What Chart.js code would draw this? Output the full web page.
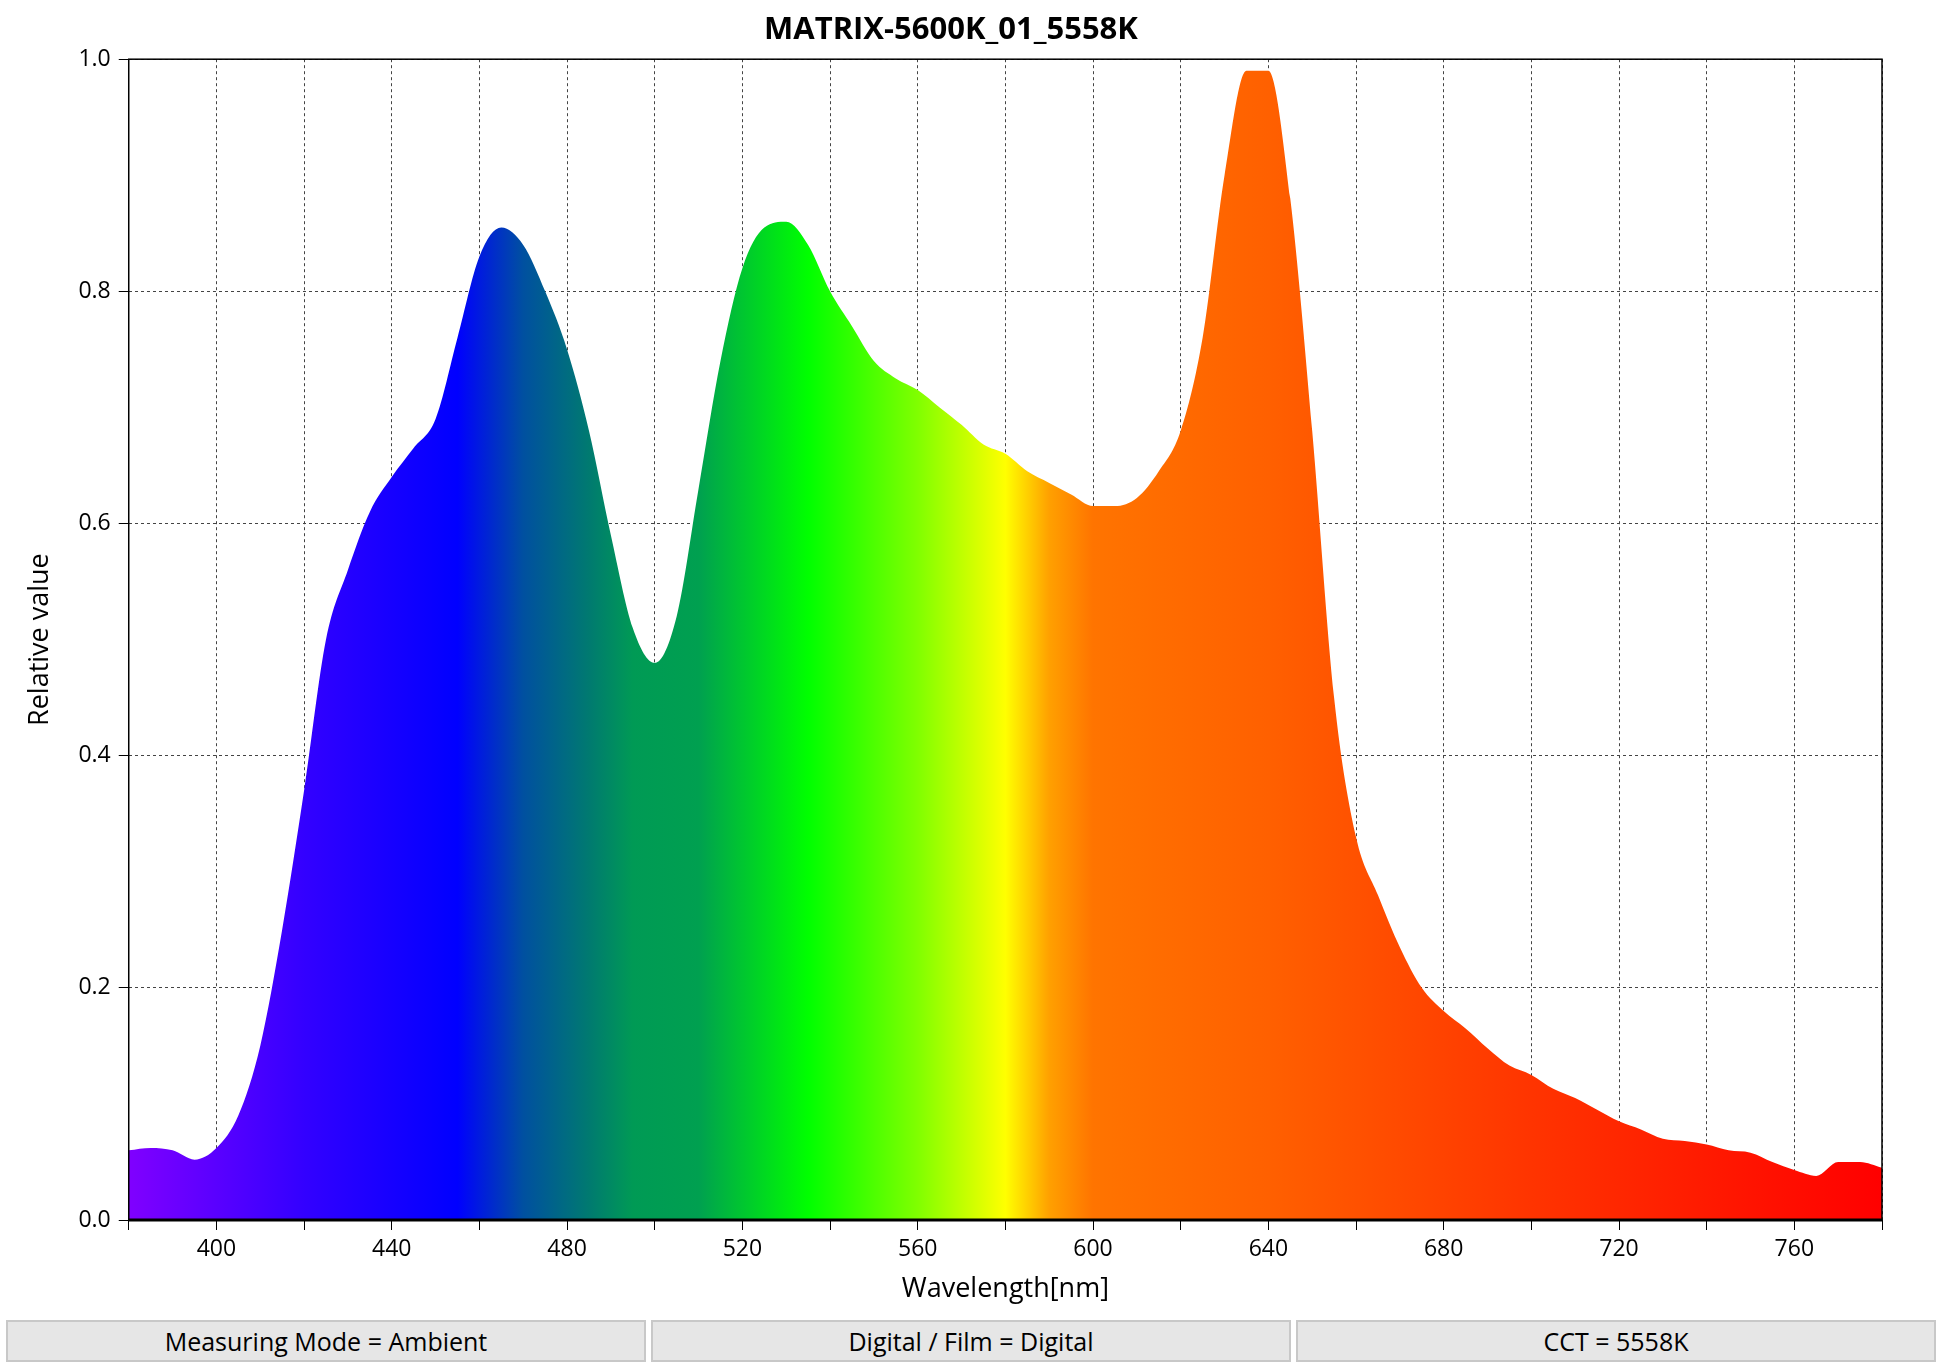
<!DOCTYPE html>
<html>
<head>
<meta charset="utf-8">
<script src="https://cdn.jsdelivr.net/npm/chart.js@4/dist/chart.umd.min.js"></script>
<style>
body { margin: 0; background: #fff; font-family: "Open Sans", "Noto Sans", sans-serif; }
#wrap { position: absolute; left: 0; top: 0; width: 1940px; height: 1310px; }
.box { position: absolute; top: 1320px; height: 38px; background: #e6e6e6; border: 2px solid #c8c8c8;
  font-size: 25px; line-height: 38px; text-align: center; color: #000; box-sizing: content-box; }
</style>
</head>
<body>
<div id="wrap"><canvas id="spec"></canvas></div>
<div class="box" style="left:6px;width:636px">Measuring Mode = Ambient</div>
<div class="box" style="left:651px;width:636px">Digital / Film = Digital</div>
<div class="box" style="left:1296px;width:636px">CCT = 5558K</div>
<script>
const wavelengths = [380,385,390,395,400,405,410,415,420,425,430,435,440,445,450,455,460,465,470,475,480,485,490,495,500,
  505,510,515,520,525,530,535,540,545,550,555,560,565,570,575,580,585,590,595,600,605,610,615,620,625,630,635,640,645,650,
  655,660,665,670,675,680,685,690,695,700,705,710,715,720,725,730,735,740,745,750,755,760,765,770,775,780];
const relValue = [0.06,0.062,0.06,0.052,0.062,0.09,0.15,0.25,0.37,0.5,0.56,0.61,0.64,0.665,0.69,0.76,0.83,0.855,0.84,0.80,0.75,
  0.68,0.59,0.51,0.48,0.52,0.63,0.74,0.82,0.855,0.86,0.84,0.80,0.77,0.74,0.725,0.715,0.70,0.685,0.668,0.66,0.645,0.635,0.625,
  0.615,0.615,0.622,0.645,0.68,0.76,0.9,0.99,0.99,0.88,0.68,0.45,0.33,0.28,0.235,0.20,0.18,0.165,0.148,0.133,0.125,0.113,
  0.105,0.095,0.085,0.078,0.07,0.068,0.065,0.06,0.058,0.05,0.043,0.038,0.05,0.05,0.045];
const gradStops = [[380,'#8000ff'],[420,'#3300ff'],[455,'#0000ff'],[470,'#0050a0'],[485,'#007a70'],[495,'#009a55'],
  [510,'#00a050'],[535,'#00ff00'],[560,'#80ff00'],[580,'#ffff00'],[590,'#ffa000'],[600,'#ff7400'],[640,'#ff6000'],
  [700,'#ff3400'],[780,'#ff0000']];

function spectrumFill(ctx) {
  const chart = ctx.chart;
  const area = chart.chartArea;
  if (!area) return '#00f';
  const xs = chart.scales.x;
  const g = chart.ctx.createLinearGradient(area.left, 0, area.right, 0);
  gradStops.forEach(s => g.addColorStop((xs.getPixelForValue(s[0]) - area.left) / (area.right - area.left), s[1]));
  return g;
}

const frame = {
  id: 'frame',
  afterDraw(chart) {
    const a = chart.chartArea, c = chart.ctx;
    c.save(); c.strokeStyle = '#000'; c.lineWidth = 1.5;
    c.strokeRect(a.left, a.top, a.right - a.left, a.bottom - a.top);
    c.lineWidth = 3; c.beginPath(); c.moveTo(a.left, a.bottom); c.lineTo(a.right, a.bottom); c.stroke();
    c.restore();
  }
};

new Chart(document.getElementById('spec'), {
  type: 'line',
  data: {
    datasets: [{
      data: wavelengths.map((w, i) => ({ x: w, y: relValue[i] })),
      fill: 'origin',
      backgroundColor: spectrumFill,
      borderWidth: 0,
      pointRadius: 0,
      cubicInterpolationMode: 'monotone'
    }]
  },
  options: {
    responsive: true,
    maintainAspectRatio: false,
    animation: false,
    layout: { padding: { left: 20, right: 58, top: 0, bottom: 0 } },
    plugins: {
      legend: { display: false },
      tooltip: { enabled: false },
      title: { display: true, text: 'MATRIX-5600K_01_5558K', color: '#000',
        font: { size: 31, family: 'Open Sans' }, padding: { top: 12, bottom: 10 } }
    },
    scales: {
      x: {
        type: 'linear', min: 380, max: 780,
        ticks: { stepSize: 20, color: '#000', font: { size: 23, family: 'Open Sans' }, maxRotation: 0, padding: 6,
          callback: v => (v % 40 === 0 ? v : '') },
        grid: { color: '#444', lineWidth: 1, drawTicks: true, tickLength: 10, tickColor: '#000',
          tickBorderDash: [] },
        border: { dash: [3, 3], display: false },
        title: { display: true, text: 'Wavelength[nm]', color: '#000', font: { size: 27, family: 'Open Sans' }, padding: { top: 4 } }
      },
      y: {
        min: 0, max: 1.0,
        ticks: { stepSize: 0.2, color: '#000', font: { size: 23, family: 'Open Sans' }, padding: 8,
          callback: v => v.toFixed(1) },
        grid: { color: '#444', lineWidth: 1, tickLength: 10, tickColor: '#000' },
        border: { dash: [3, 3], display: false },
        title: { display: true, text: 'Relative value', color: '#000', font: { size: 27, family: 'Open Sans' }, padding: { bottom: 14 } }
      }
    }
  },
  plugins: [frame]
});
</script>
</body>
</html>
